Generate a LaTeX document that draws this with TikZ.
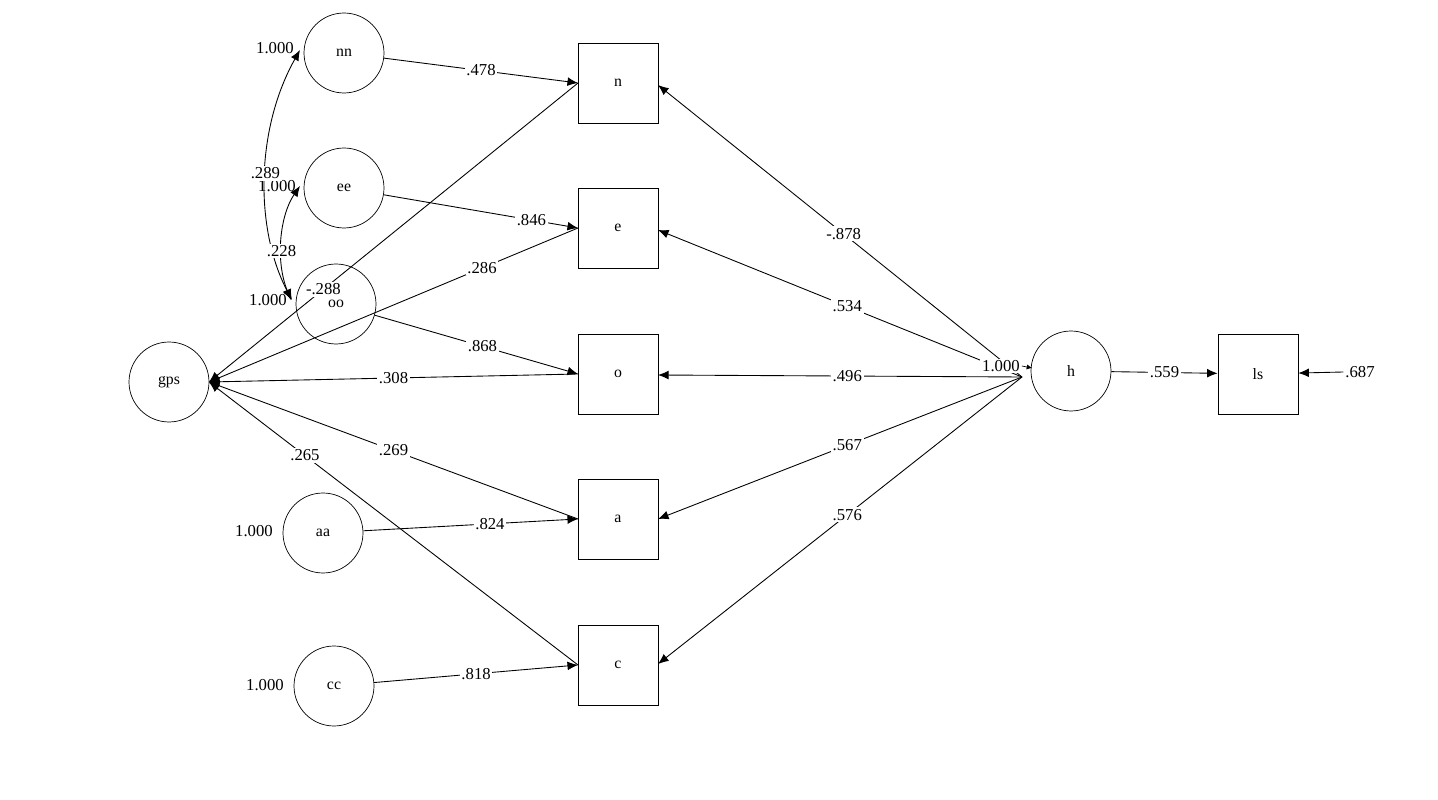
\documentclass[tikz,border=0pt]{standalone}
\usepackage{fontspec}
\setmainfont{Liberation Serif}
\usetikzlibrary{arrows.meta}
\begin{document}
\begin{tikzpicture}[x=0.02cm,y=-0.02cm,
  lat/.style={draw,circle,minimum size=1.6cm,inner sep=0pt,font=\fontsize{9}{10}\selectfont},
  obs/.style={draw,minimum size=1.6cm,inner sep=0pt,font=\fontsize{9}{10}\selectfont},
  lab/.style={fill=white,inner sep=1pt,font=\fontsize{9.5}{10}\selectfont},
  vl/.style={inner sep=1pt,font=\fontsize{9.5}{10}\selectfont},
  ar/.style={-{Latex[length=6pt,width=5pt]},line width=0.5pt},
  dar/.style={{Latex[length=6pt,width=5pt]}-{Latex[length=6pt,width=5pt]},line width=0.5pt}]
\useasboundingbox (0,0) rectangle (1438,800);
\node[lat] (nn) at (344,53) {nn};
\node[lat] (ee) at (344,188) {ee};
\node[lat] (oo) at (336,304) {oo};
\node[lat] (gps) at (169,382) {gps};
\node[lat] (aa) at (323,533) {aa};
\node[lat] (cc) at (334,686) {cc};
\node[obs] (n) at (618,83) {n};
\node[obs] (e) at (618,228) {e};
\node[obs] (o) at (618,374) {o};
\node[obs] (a) at (618,519) {a};
\node[obs] (c) at (618,665) {c};
\node[lat] (h) at (1071,371) {h};
\node[obs] (ls) at (1258,374) {ls};
\coordinate (hs) at (1022,377);
\coordinate (gp) at (209,382);
\coordinate (nL) at (578,83);\coordinate (eL) at (578,228);\coordinate (oL) at (578,374);
\coordinate (aL) at (578,519);\coordinate (cL) at (578,665);
\coordinate (nR) at (658,85);\coordinate (eR) at (658,230);\coordinate (oR) at (658,375);
\coordinate (aR) at (658,519);\coordinate (cR) at (658,664);
% variances
\node[vl] (vnn) at (275,48) {1.000};
\node[vl] (vee) at (277,186) {1.000};
\node[vl] (voo) at (268,300) {1.000};
\node[vl] (vaa) at (254,531) {1.000};
\node[vl] (vcc) at (265,685) {1.000};
% covariances
\draw[dar] (292,300) .. controls (255,230) and (255,130) .. node[lab,pos=0.52]{.289} (300,50);
\draw[dar] (291,300) .. controls (275,260) and (280,215) .. node[lab,pos=0.4]{.228} (300,186);
% gps paths
\draw[ar] (nL) -- node[lab,pos=0.69]{-.288} (gp);
\draw[ar] (eL) -- node[lab,pos=0.26]{.286} (gp);
\draw[ar] (oL) -- node[lab,pos=0.5]{.308} (gp);
\draw[ar] (aL) -- node[lab,pos=0.5]{.269} (gp);
\draw[ar] (cL) -- node[lab,pos=0.74]{.265} (gp);
% loadings
\draw[ar] (nn) -- node[lab,pos=0.5]{.478} (nL);
\draw[ar] (ee) -- node[lab,pos=0.76]{.846} (eL);
\draw[ar] (oo) -- node[lab,pos=0.53]{.868} (oL);
\draw[ar] (aa) -- node[lab,pos=0.59]{.824} (aL);
\draw[ar] (cc) -- node[lab,pos=0.5]{.818} (cL);
% h paths
\draw[ar] (hs) -- node[lab,pos=0.49]{-.878} (nR);
\draw[ar] (hs) -- node[lab,pos=0.48]{.534} (eR);
\draw[ar] (hs) -- node[lab,pos=0.48]{.496} (oR);
\draw[ar] (hs) -- node[lab,pos=0.48]{.567} (aR);
\draw[ar] (hs) -- node[lab,pos=0.48]{.576} (cR);
\node[lab] (vh) at (1001,366) {1.000};
\draw[-{Latex[length=3pt,width=3pt]}] (vh.east) -- (1032,368);
\draw[ar] (h) -- node[lab,pos=0.5]{.559} (ls);
\node[vl] (vls) at (1360,372) {.687};
\draw[ar] (vls.west) -- (ls);
\end{tikzpicture}
\end{document}
